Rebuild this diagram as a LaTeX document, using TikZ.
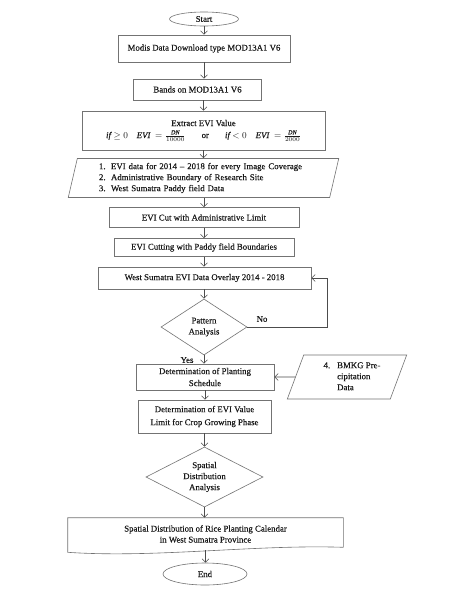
\documentclass[tikz,border=0pt]{standalone}
\usepackage{fontspec}
\setmainfont{Liberation Serif}[FakeBold=0.3]
\usetikzlibrary{shapes.geometric,arrows.meta,calc}
\begin{document}
\begin{tikzpicture}[x=1pt,y=-1pt,
  font=\fontsize{8.8}{11}\selectfont,
  line width=0.6pt,
  shp/.style={draw=black!55, text=black!90, inner sep=0pt, align=center},
  box/.style={shp, rectangle},
  para/.style={shp, trapezium, trapezium stretches=true},
  dia/.style={shp, diamond},
  term/.style={shp, ellipse},
  lbl/.style={text=black!90, inner sep=0pt},
  arr/.style={draw=black!70, -{Straight Barb[length=3.5pt,width=7pt]}}
]
\path[use as bounding box, fill=white] (0,0) rectangle (474,592);

\node[term, minimum width=69, minimum height=14] (start) at (204,19) {Start};
\node[box, minimum width=172, minimum height=27] (m1) at (204,48.5) {Modis Data Download type MOD13A1 V6};
\node[box, minimum width=128, minimum height=21] (bands) at (197.5,89.5) {Bands on MOD13A1 V6};
\node[box, minimum width=243, minimum height=39] (extract) at (203.5,130.5)
  {Extract EVI Value\\[1pt]
   $\mathit{if}\geq 0\quad \mathit{EVI}\ = \frac{\mathit{DN}}{10000}$\hspace{16pt}or\hspace{16pt}$\mathit{if}<0\quad \mathit{EVI}\ = \frac{\mathit{DN}}{2000}$};
\node[para, trapezium left angle=76, trapezium right angle=104, minimum width=271, minimum height=39,
      align=left, text width=209] (data) at (203.5,178)
  {\makebox[12pt][l]{1.}EVI data for 2014 -- 2018 for every Image Coverage\\
   \makebox[12pt][l]{2.}Administrative Boundary of Research Site\\
   \makebox[12pt][l]{3.}West Sumatra Paddy field Data};
\node[box, minimum width=190, minimum height=20] (cut) at (204,217.5) {EVI Cut with Administrative Limit};
\node[box, minimum width=180, minimum height=18] (cutting) at (204,247.5) {EVI Cutting with Paddy field Boundaries};
\node[box, minimum width=213, minimum height=22] (ov) at (204.5,278) {West Sumatra EVI Data Overlay 2014 - 2018};
\node[dia, aspect=1.54, minimum width=86, minimum height=56] (pat) at (204,327) {Pattern\\Analysis};
\node[box, minimum width=138, minimum height=26, font=\fontsize{8.8}{12}\selectfont] (plant) at (205,377) {Determination of Planting\\Schedule};
\node[para, trapezium left angle=69, trapezium right angle=111, minimum width=120, minimum height=44] (bmkg) at (347,377)
  {\hspace{10pt}\begin{tabular}{@{}l@{\hspace{7pt}}l@{}}4. & BMKG Pre-\\ & cipitation\\ & Data\end{tabular}};
\node[box, minimum width=133, minimum height=33, font=\fontsize{8.8}{13}\selectfont] (limit) at (204.5,416.5) {Determination of EVI Value\\Limit for Crop Growing Phase};
\node[dia, aspect=1.95, minimum width=117, minimum height=60] (spat) at (204.5,477) {Spatial\\Distribution\\Analysis};
\node[lbl, minimum width=275, minimum height=32, align=center] (doc) at (205.5,534)
  {Spatial Distribution of Rice Planting Calendar\\in West Sumatra Province};
\draw[draw=black!55] ($(doc.south east)+(0,-3)$) -- (doc.north east) -- (doc.north west) -- ($(doc.south west)+(0,2)$)
  .. controls ($(doc.south)+(-50,8)$) and ($(doc.south)+(50,-6)$) .. ($(doc.south east)+(0,-3)$);
\node[term, minimum width=84, minimum height=22] (end) at (205,574) {End};

\node[lbl] (no) at (262,319) {No};
\node[lbl] (yes) at (187,360) {Yes};
\coordinate (fb) at (327,327);

\draw[arr] (start.south) -- (start.south |- m1.north);
\draw[arr] (m1.south) -- (m1.south |- bands.north);
\draw[arr] (extract.north |- bands.south) -- (extract.north);
\draw[arr] (extract.south) -- (extract.south |- data.north);
\draw[arr] (cut.north |- data.south) -- (cut.north);
\draw[arr] (cut.south) -- (cutting.north);
\draw[arr] (cutting.south) -- (cutting.south |- ov.north);
\draw[arr] (pat.north |- ov.south) -- (pat.north);
\draw[arr] (pat.east) -- (fb) -- (fb |- ov.east) -- (ov.east);
\draw[arr] (pat.south) -- (pat.south |- plant.north);
\draw[arr] (bmkg.west) -- (plant.east);
\draw[arr] (plant.south) -- (plant.south |- limit.north);
\draw[arr] (limit.south) -- (limit.south |- spat.north);
\draw[arr] (spat.south) -- (spat.south |- doc.north);
\draw[arr] (doc.south) -- (doc.south |- end.north);
\end{tikzpicture}
\end{document}
